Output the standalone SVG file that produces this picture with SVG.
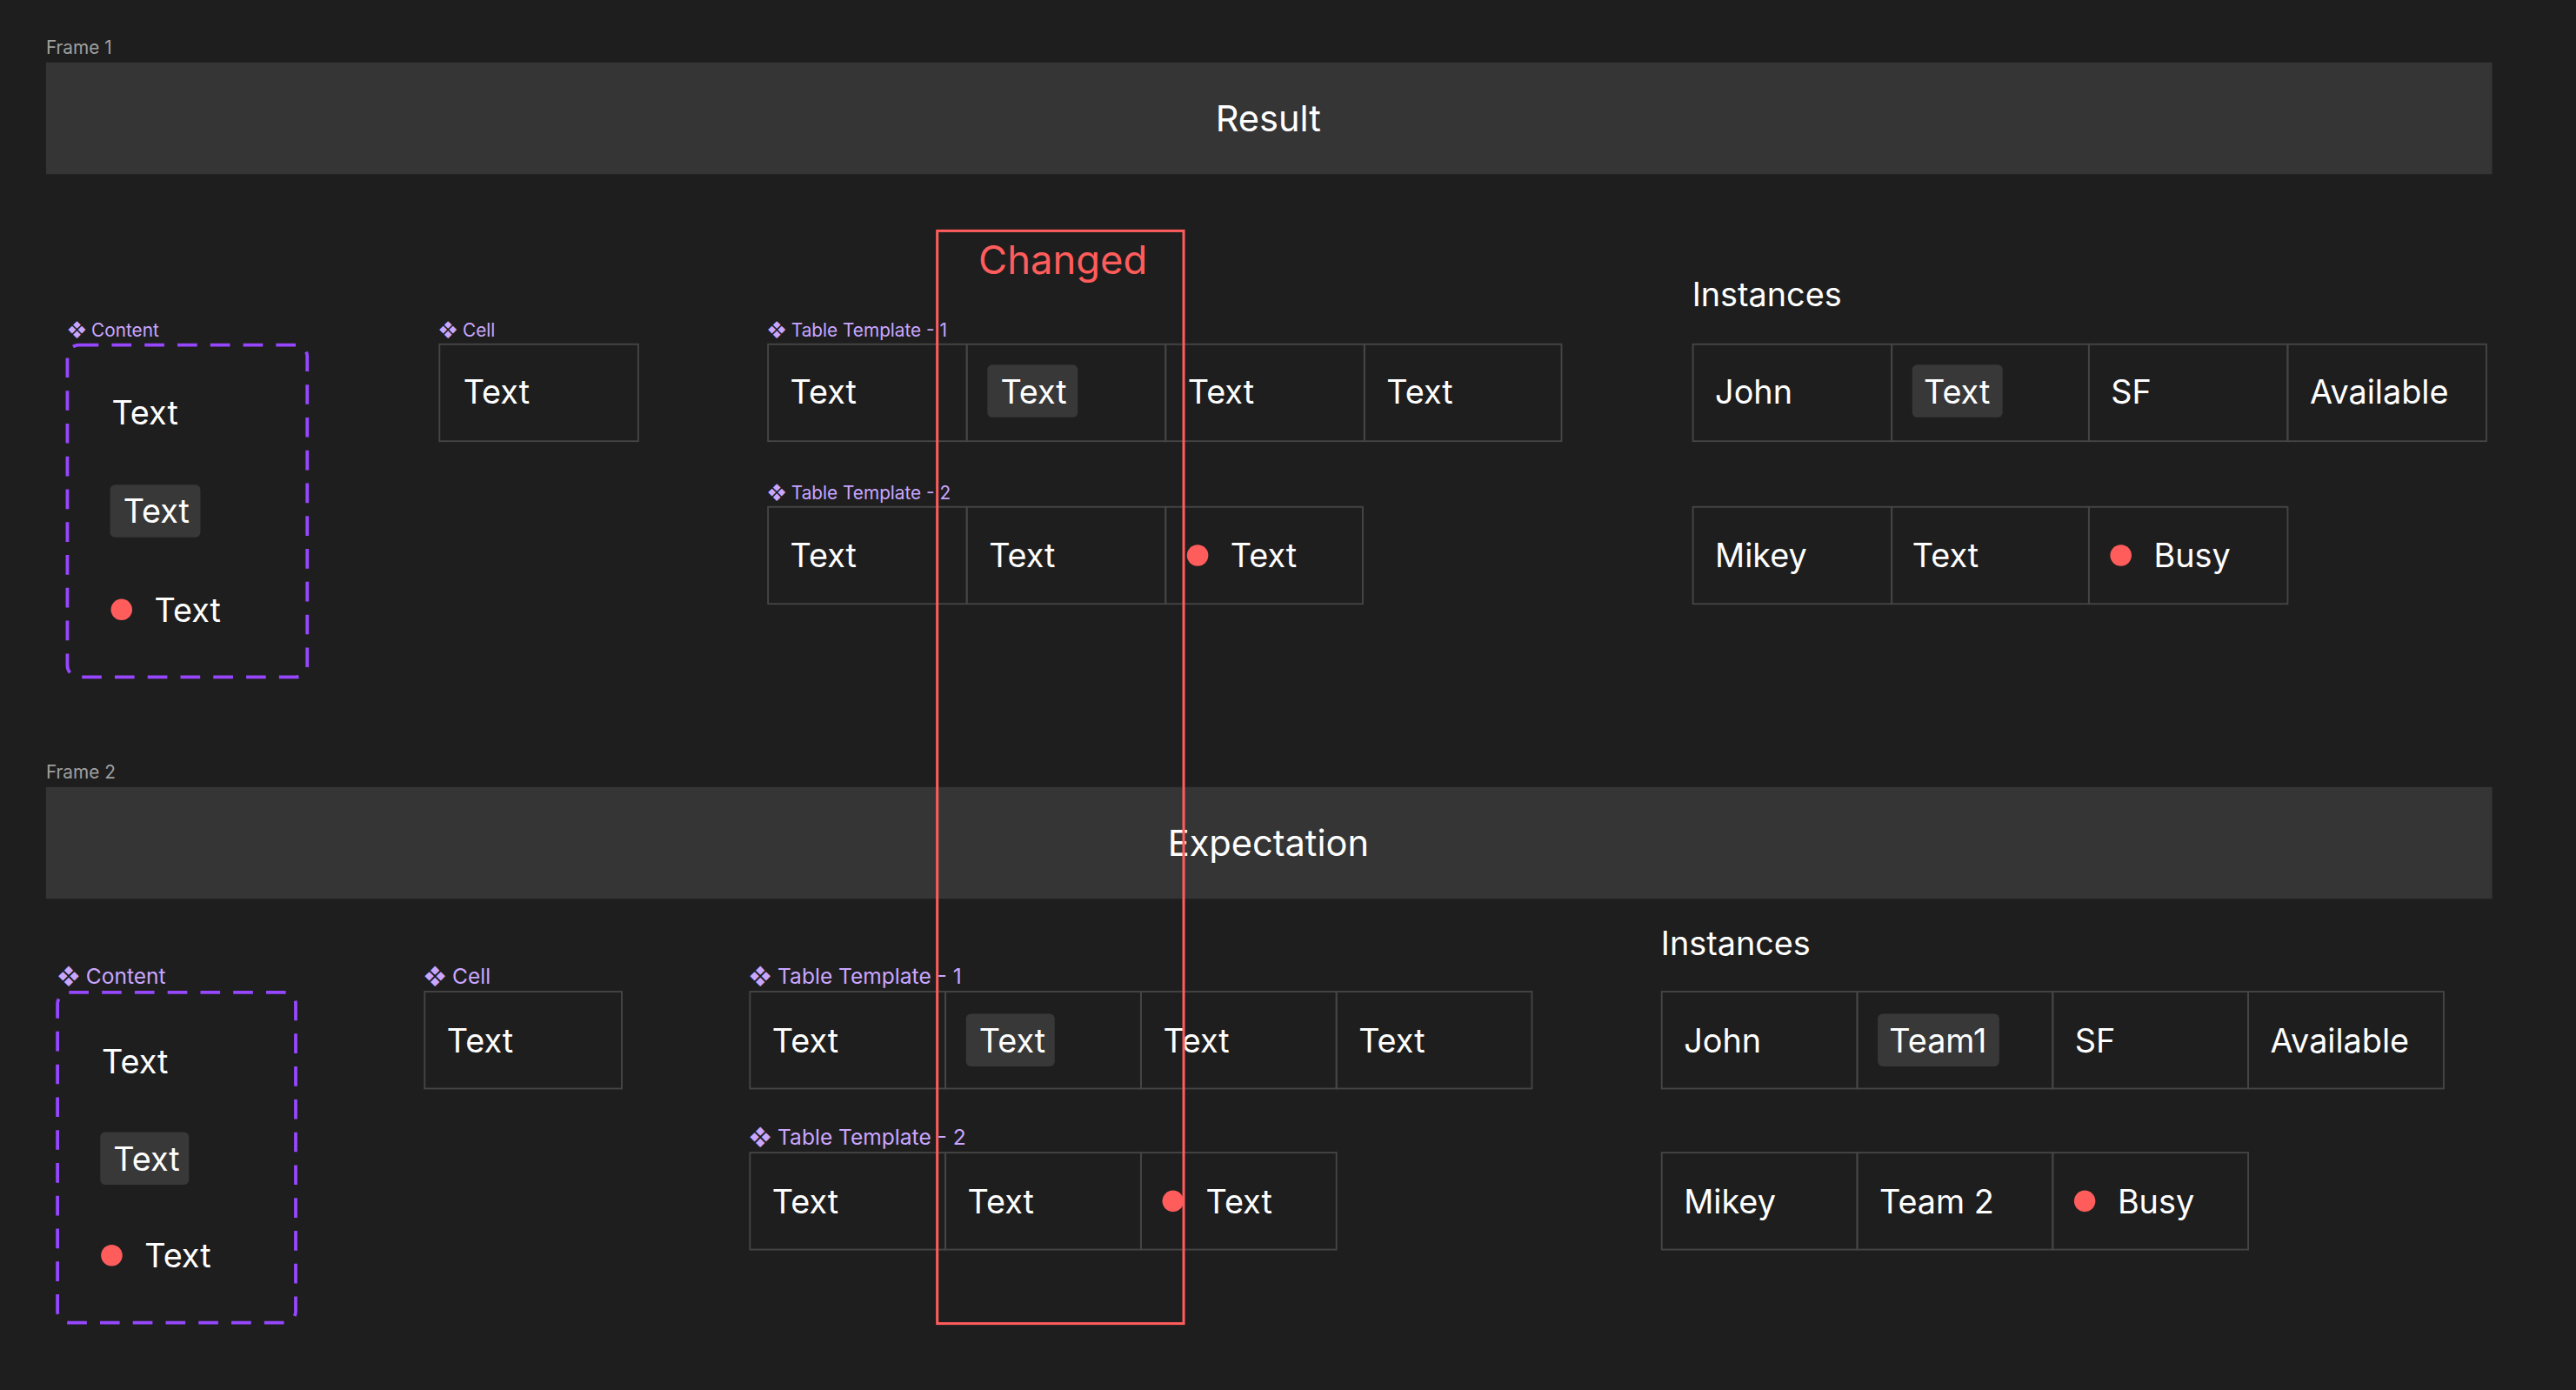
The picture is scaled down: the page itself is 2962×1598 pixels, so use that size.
<svg xmlns="http://www.w3.org/2000/svg" width="2962" height="1598" viewBox="0 0 2962 1598">
<style>
text{font-family:Inter,"Noto Sans",sans-serif;fill:#ffffff}
.t{font-size:20px;dominant-baseline:central}
.lbl{font-size:11px;fill:#c9a6ff;dominant-baseline:central}
.lbl2{font-size:13px;fill:#c9a6ff;dominant-baseline:central}
.fl{font-size:11px;fill:#a0a0a0;dominant-baseline:central}
.cell{fill:none;stroke:#454545;stroke-width:1}
.chip{fill:#383838}
.dot{fill:#ff5c5c}
.hdr{fill:#353535}
.ht{font-size:22px;text-anchor:middle;dominant-baseline:central}
.cont{fill:none;stroke:#9747ff;stroke-width:2;stroke-dasharray:12 8}
</style>
<rect width="2962" height="1598" fill="#1e1e1e"/>
<g transform="scale(1.889)">
<g id="frame1">
<text class="fl" x="28" y="29">Frame 1</text>
<rect class="hdr" x="28" y="38" width="1489" height="68"/>
<text class="ht" x="772" y="72">Result</text>
</g>
<g id="content1">
<text class="lbl" x="41" y="201">❖ Content</text>
<rect class="cont" x="41" y="210" width="146" height="202" rx="7"/>
<text class="t" x="68" y="251">Text</text>
<rect class="chip" x="67" y="295" width="55" height="32" rx="3"/>
<text class="t" x="75" y="311">Text</text>
<circle class="dot" cx="74" cy="371" r="6.5"/>
<text class="t" x="94" y="371">Text</text>
</g>
<g id="cell1">
<text class="lbl" x="267" y="201">❖ Cell</text>
<rect class="cell" x="267.5" y="209.5" width="121" height="59"/>
<text class="t" x="282" y="238">Text</text>
</g>
<g id="tt1a">
<text class="lbl" x="467" y="201">❖ Table Template - 1</text>
<rect class="cell" x="467.5" y="209.5" width="121" height="59"/>
<rect class="cell" x="588.5" y="209.5" width="121" height="59"/>
<rect class="cell" x="709.5" y="209.5" width="121" height="59"/>
<rect class="cell" x="830.5" y="209.5" width="120" height="59"/>
<text class="t" x="481" y="238">Text</text>
<rect class="chip" x="601" y="222" width="55" height="32" rx="3"/>
<text class="t" x="609" y="238">Text</text>
<text class="t" x="723" y="238">Text</text>
<text class="t" x="844" y="238">Text</text>
</g>
<g id="tt2a">
<text class="lbl" x="467" y="300">❖ Table Template - 2</text>
<rect class="cell" x="467.5" y="308.5" width="121" height="59"/>
<rect class="cell" x="588.5" y="308.5" width="121" height="59"/>
<rect class="cell" x="709.5" y="308.5" width="120" height="59"/>
<text class="t" x="481" y="338">Text</text>
<text class="t" x="602" y="338">Text</text>
<circle class="dot" cx="729" cy="338" r="6.5"/>
<text class="t" x="749" y="338">Text</text>
</g>
<g id="inst1">
<text class="t" x="1030" y="179">Instances</text>
<rect class="cell" x="1030.5" y="209.5" width="121" height="59"/>
<rect class="cell" x="1151.5" y="209.5" width="120" height="59"/>
<rect class="cell" x="1271.5" y="209.5" width="121" height="59"/>
<rect class="cell" x="1392.5" y="209.5" width="121" height="59"/>
<text class="t" x="1044" y="238">John</text>
<rect class="chip" x="1164" y="222" width="55" height="32" rx="3"/>
<text class="t" x="1171" y="238">Text</text>
<text class="t" x="1285" y="238">SF</text>
<text class="t" x="1406" y="238">Available</text>
<rect class="cell" x="1030.5" y="308.5" width="121" height="59"/>
<rect class="cell" x="1151.5" y="308.5" width="120" height="59"/>
<rect class="cell" x="1271.5" y="308.5" width="121" height="59"/>
<text class="t" x="1044" y="338">Mikey</text>
<text class="t" x="1164" y="338">Text</text>
<circle class="dot" cx="1291" cy="338" r="6.5"/>
<text class="t" x="1311" y="338">Busy</text>
</g>
<g id="frame2">
<text class="fl" x="28" y="470">Frame 2</text>
<rect class="hdr" x="28" y="479" width="1489" height="68"/>
<text class="ht" x="772" y="513">Expectation</text>
</g>
<g id="content2">
<text class="lbl2" x="35" y="594">❖ Content</text>
<rect class="cont" x="35" y="604" width="145" height="201" rx="7"/>
<text class="t" x="62" y="646">Text</text>
<rect class="chip" x="61" y="689" width="54" height="32" rx="3"/>
<text class="t" x="69" y="705">Text</text>
<circle class="dot" cx="68" cy="764" r="6.5"/>
<text class="t" x="88" y="764">Text</text>
</g>
<g id="cell2">
<text class="lbl2" x="258" y="594">❖ Cell</text>
<rect class="cell" x="258.5" y="603.5" width="120" height="59"/>
<text class="t" x="272" y="633">Text</text>
</g>
<g id="tt1b">
<text class="lbl2" x="456" y="594">❖ Table Template - 1</text>
<rect class="cell" x="456.5" y="603.5" width="119" height="59"/>
<rect class="cell" x="575.5" y="603.5" width="119" height="59"/>
<rect class="cell" x="694.5" y="603.5" width="119" height="59"/>
<rect class="cell" x="813.5" y="603.5" width="119" height="59"/>
<text class="t" x="470" y="633">Text</text>
<rect class="chip" x="588" y="617" width="54" height="32" rx="3"/>
<text class="t" x="596" y="633">Text</text>
<text class="t" x="708" y="633">Text</text>
<text class="t" x="827" y="633">Text</text>
</g>
<g id="tt2b">
<text class="lbl2" x="456" y="692">❖ Table Template - 2</text>
<rect class="cell" x="456.5" y="701.5" width="119" height="59"/>
<rect class="cell" x="575.5" y="701.5" width="119" height="59"/>
<rect class="cell" x="694.5" y="701.5" width="119" height="59"/>
<text class="t" x="470" y="731">Text</text>
<text class="t" x="589" y="731">Text</text>
<circle class="dot" cx="714" cy="731" r="6.5"/>
<text class="t" x="734" y="731">Text</text>
</g>
<g id="inst2">
<text class="t" x="1011" y="574">Instances</text>
<rect class="cell" x="1011.5" y="603.5" width="119" height="59"/>
<rect class="cell" x="1130.5" y="603.5" width="119" height="59"/>
<rect class="cell" x="1249.5" y="603.5" width="119" height="59"/>
<rect class="cell" x="1368.5" y="603.5" width="119" height="59"/>
<text class="t" x="1025" y="633">John</text>
<rect class="chip" x="1143" y="617" width="74" height="32" rx="3"/>
<text class="t" x="1150" y="633">Team1</text>
<text class="t" x="1263" y="633">SF</text>
<text class="t" x="1382" y="633">Available</text>
<rect class="cell" x="1011.5" y="701.5" width="119" height="59"/>
<rect class="cell" x="1130.5" y="701.5" width="119" height="59"/>
<rect class="cell" x="1249.5" y="701.5" width="119" height="59"/>
<text class="t" x="1025" y="731">Mikey</text>
<text class="t" x="1144" y="731">Team 2</text>
<circle class="dot" cx="1269" cy="731" r="6.5"/>
<text class="t" x="1289" y="731">Busy</text>
</g>
<g id="changed">
<rect x="570.5" y="140.5" width="150" height="665" fill="none" stroke="#ff5c5c" stroke-width="1.6"/>
<text x="647" y="158" font-size="24" fill="#ff5c5c" style="fill:#ff5c5c" text-anchor="middle" dominant-baseline="central">Changed</text>
</g>
</g>
</svg>
